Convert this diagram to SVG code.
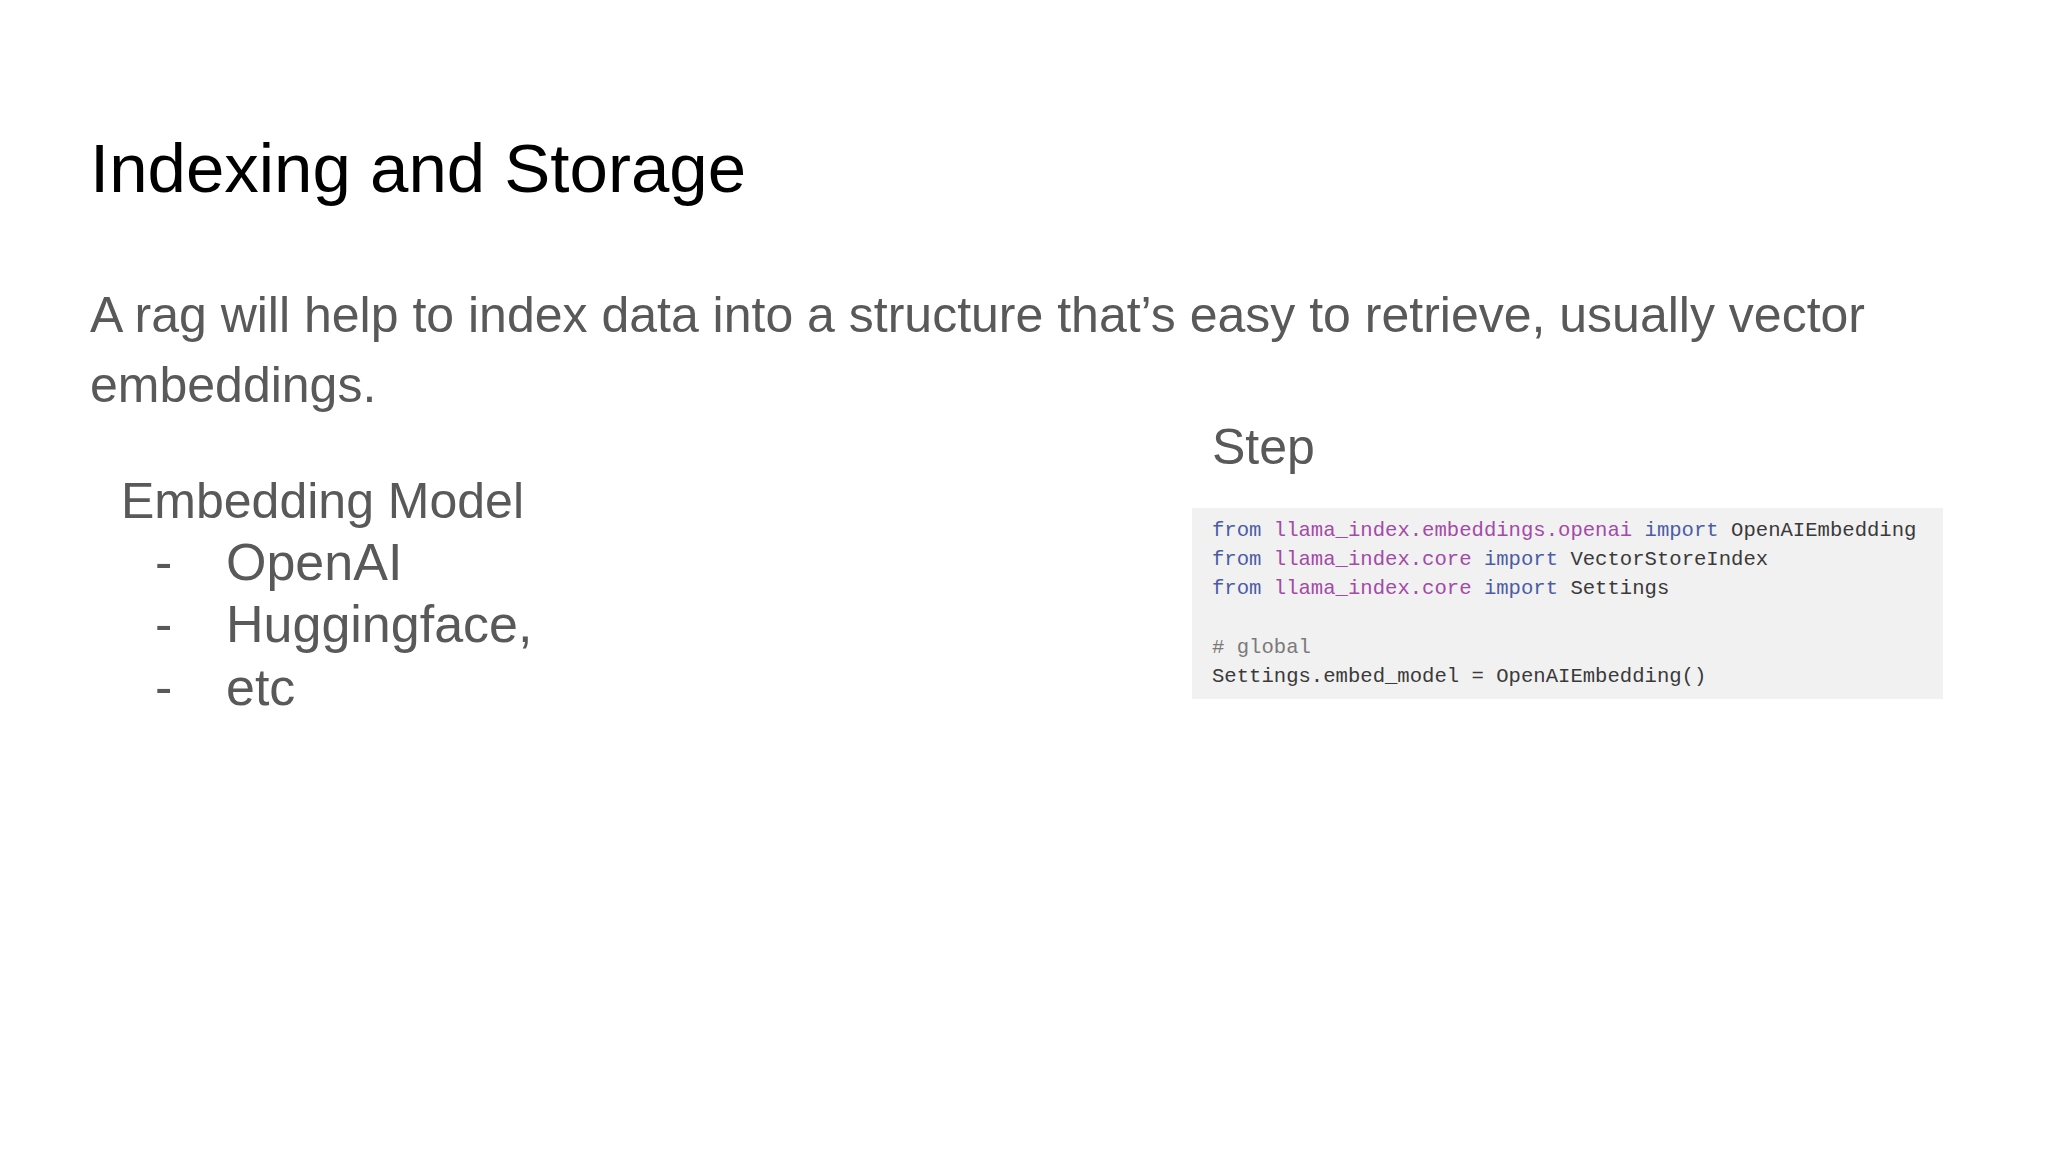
<svg xmlns="http://www.w3.org/2000/svg" width="2048" height="1152" viewBox="0 0 2048 1152">
<style>
.s{font-family:"Liberation Sans",Arial,sans-serif;fill:#595959}
.c{font-family:"Liberation Mono","DejaVu Sans Mono",monospace;font-size:20.6px;fill:#3a3a3a}
.k{fill:#4b5ca6}.m{fill:#a34aa8}.g{fill:#7a7a7a}
</style>
<rect width="2048" height="1152" fill="#fff"/>
<text x="90" y="192" font-family="Liberation Sans,Arial,sans-serif" font-size="69" fill="#000">Indexing and Storage</text>
<text class="s" x="90" y="332" font-size="50">A rag will help to index data into a structure that’s easy to retrieve, usually vector</text>
<text class="s" x="90" y="402" font-size="50">embeddings.</text>
<g id="embedding">
<text class="s" x="121" y="518" font-size="50">Embedding Model</text>
<text class="s" x="155" y="580" font-size="52">-</text><text class="s" x="226" y="580" font-size="52">OpenAI</text>
<text class="s" x="155" y="642" font-size="52">-</text><text class="s" x="226" y="642" font-size="52">Huggingface,</text>
<text class="s" x="155" y="705" font-size="52">-</text><text class="s" x="226" y="705" font-size="52">etc</text>
</g>
<g id="step">
<text class="s" x="1212" y="464" font-size="50">Step</text>
<rect x="1192" y="508" width="751" height="191" fill="#f1f1f1"/>
<text class="c" x="1212" y="536"><tspan class="k">from</tspan> <tspan class="m">llama_index.embeddings.openai</tspan> <tspan class="k">import</tspan> OpenAIEmbedding</text>
<text class="c" x="1212" y="565"><tspan class="k">from</tspan> <tspan class="m">llama_index.core</tspan> <tspan class="k">import</tspan> VectorStoreIndex</text>
<text class="c" x="1212" y="594"><tspan class="k">from</tspan> <tspan class="m">llama_index.core</tspan> <tspan class="k">import</tspan> Settings</text>
<text class="c g" x="1212" y="653"># global</text>
<text class="c" x="1212" y="682">Settings.embed_model = OpenAIEmbedding()</text>
</g>
<g id="connectors"/>
</svg>
